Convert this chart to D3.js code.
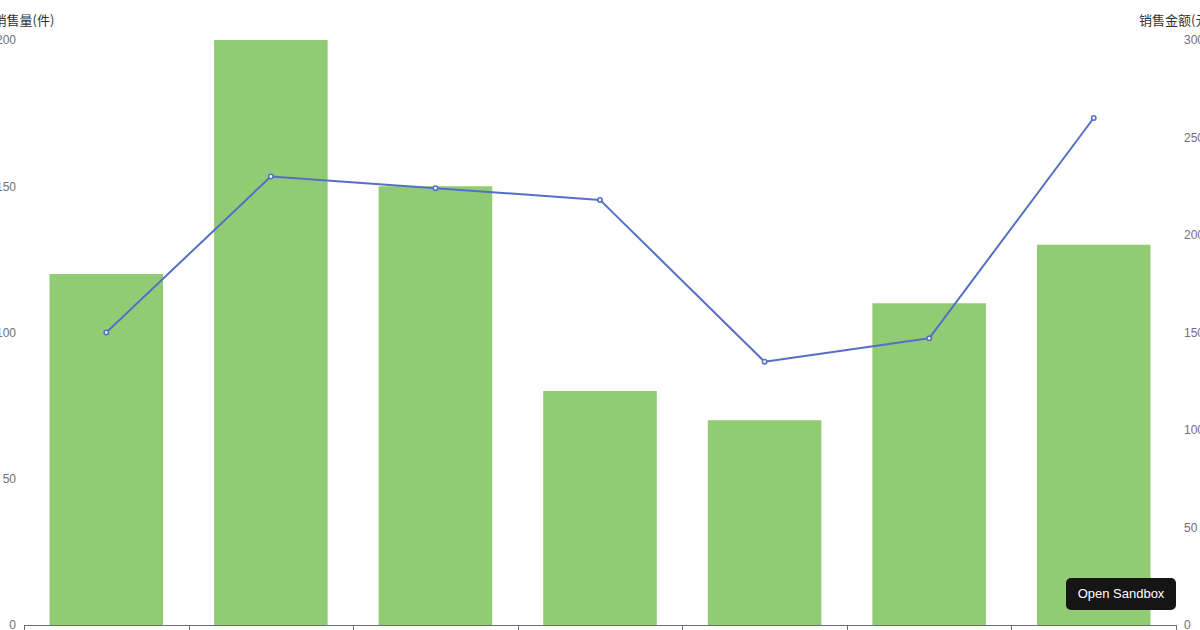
<!DOCTYPE html>
<html lang="zh">
  <head>
    <meta charset="utf-8">
    <title>销售图表</title>
    <script type="text/javascript" src="https://d3js.org/d3.v7.min.js"></script>
    <style>
    body {
      margin:0;
      background-color:#ffffff;
      overflow:hidden;
    }
    #chart {
      position:relative;
      width:1200px;
      height:630px;
    }
    .axis text {
      font-family:"Liberation Sans", Arial, sans-serif;
      font-size:12px;
      fill:#6e7079;
    }
    .sandbox {
      position:absolute;
      left:1066px;
      top:578px;
      width:110px;
      height:32px;
      line-height:32px;
      background-color:#151515;
      color:#ffffff;
      border-radius:5px;
      text-align:center;
      font-family:"Liberation Sans", Arial, sans-serif;
      font-size:13px;
    }
    </style>
  </head>
  <body>
    <div id="chart"></div>
    <script type="text/javascript">
    // データ
    const categories = ["一月", "二月", "三月", "四月", "五月", "六月", "七月"];
    const barValues = [120, 200, 150, 80, 70, 110, 130];
    const lineValues = [150, 230, 224, 218, 135, 147, 260];
    const leftTicks = [0, 50, 100, 150, 200];
    const rightTicks = [0, 50, 100, 150, 200, 250, 300];
    const leftName = "销售量(件)";
    const rightName = "销售金额(元)";

    const width = 1200, height = 630;
    const margin = {top: 40, right: 24, bottom: 5, left: 24};
    const svg = d3.select("#chart").append("svg").attr("width", width).attr("height", height);

    const x = d3.scaleBand().domain(categories)
      .range([margin.left, width - margin.right])
      .paddingInner(0.31).paddingOuter(0.155);
    const yL = d3.scaleLinear().domain([0, 200]).range([height - margin.bottom, margin.top]);
    const yR = d3.scaleLinear().domain([0, 300]).range([height - margin.bottom, margin.top]);

// 棒グラフ
    svg.append("g").selectAll("rect").data(barValues).join("rect")
      .attr("x", (d, i) => x(categories[i]))
      .attr("width", x.bandwidth())
      .attr("y", d => yL(d))
      .attr("height", d => yL(0) - yL(d))
      .attr("fill", "#91cc75");

// 左右のY軸 (線なし)
    const axL = svg.append("g").attr("class", "axis").attr("transform", `translate(${margin.left},0)`)
      .call(d3.axisLeft(yL).tickValues(leftTicks).tickSize(0).tickPadding(8));
    axL.select(".domain").remove();
    const axR = svg.append("g").attr("class", "axis").attr("transform", `translate(${width - margin.right},0)`)
      .call(d3.axisRight(yR).tickValues(rightTicks).tickSize(0).tickPadding(8));
    axR.select(".domain").remove();

// X軸: 境界に目盛り (ラベルは画面外なので描かない)
    const xBase = yL(0);
    const ax = svg.append("g").attr("class", "axis").attr("transform", `translate(0,${xBase})`);
    const step = x.step();
    const bounds = categories.map(c => x(c) - (step - x.bandwidth()) / 2);
    bounds.push(x.range()[1]);
    ax.append("line").attr("x1", x.range()[0]).attr("x2", x.range()[1])
      .attr("y1", 0.5).attr("y2", 0.5).attr("stroke", "#6e7079");
    ax.selectAll(".btick").data(bounds).join("line").attr("class", "btick")
      .attr("x1", d => Math.round(d) + 0.5).attr("x2", d => Math.round(d) + 0.5)
      .attr("y1", 0).attr("y2", 5).attr("stroke", "#6e7079");

// 折れ線
    const line = d3.line().x((d, i) => x(categories[i]) + x.bandwidth() / 2).y(d => yR(d));
    svg.append("path").datum(lineValues)
      .attr("fill", "none").attr("stroke", "#5470c6").attr("stroke-width", 2)
      .attr("stroke-linejoin", "bevel").attr("d", line);
    svg.append("g").selectAll("circle").data(lineValues).join("circle")
      .attr("cx", (d, i) => x(categories[i]) + x.bandwidth() / 2)
      .attr("cy", d => yR(d))
      .attr("r", 2.2)
      .attr("fill", "#ffffff").attr("stroke", "#5470c6").attr("stroke-width", 1.6);

// 軸タイトル
    svg.append("text").attr("x", margin.left).attr("y", 25).attr("text-anchor", "middle")
      .attr("font-family", "'Noto Sans CJK SC', sans-serif").attr("font-size", "13px").attr("fill", "#333")
      .text(leftName);
    svg.append("text").attr("x", width - margin.right).attr("y", 25).attr("text-anchor", "middle")
      .attr("font-family", "'Noto Sans CJK SC', sans-serif").attr("font-size", "13px").attr("fill", "#333")
      .text(rightName);

    d3.select("#chart").append("div").attr("class", "sandbox").text("Open Sandbox");
    </script>
  </body>
</html>
